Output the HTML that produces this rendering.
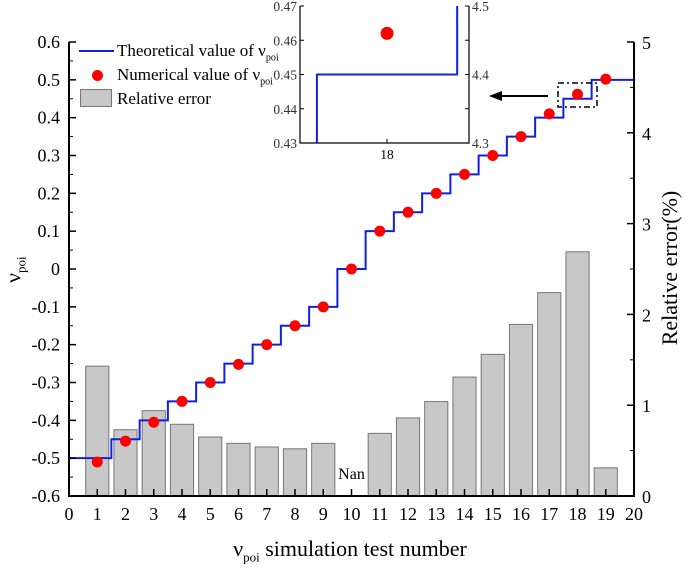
<!DOCTYPE html>
<html><head><meta charset="utf-8"><style>
body{margin:0;background:#fff}
svg{font-family:"Liberation Serif",serif}
</style></head><body>
<svg id="c" width="685" height="573" xmlns="http://www.w3.org/2000/svg"></svg>
<script>
const tests=[1,2,3,4,5,6,7,8,9,10,11,12,13,14,15,16,17,18,19];
const theoretical=[-0.5,-0.45,-0.4,-0.35,-0.3,-0.25,-0.2,-0.15,-0.1,0,0.1,0.15,0.2,0.25,0.3,0.35,0.4,0.45,0.5];
const numerical=[-0.51,-0.455,-0.405,-0.35,-0.3,-0.252,-0.2,-0.15,-0.1,0,0.1,0.15,0.2,0.25,0.3,0.35,0.41,0.462,0.502];
const relError=[1.43,0.73,0.94,0.79,0.65,0.58,0.54,0.52,0.58,null,0.69,0.86,1.04,1.31,1.56,1.89,2.24,2.69,0.31];
const xTicks=[0,1,2,3,4,5,6,7,8,9,10,11,12,13,14,15,16,17,18,19,20];
const yTicks=[0.6,0.5,0.4,0.3,0.2,0.1,0,-0.1,-0.2,-0.3,-0.4,-0.5,-0.6];
const y2Ticks=[0,1,2,3,4,5];
const insetYTicks=[0.43,0.44,0.45,0.46,0.47];
const insetY2Labels=["4.3","4.4","4.5"];

const L=69,R=634,T=42,B=496;
const X=v=>L+(v/20)*(R-L);
const Y=v=>T+(0.6-v)/1.2*(B-T);
const Y2=v=>B-(v/5)*(B-T);
const svg=document.getElementById('c');
const NS='http://www.w3.org/2000/svg';
function mk(tag,attrs,parent){const e=document.createElementNS(NS,tag);for(const k in attrs)e.setAttribute(k,attrs[k]);(parent||svg).appendChild(e);return e;}

// bars
tests.forEach((t,i)=>{if(relError[i]==null)return;
 const b=mk('rect',{x:X(t-0.41),y:Y2(relError[i]),width:X(0.82)-X(0),height:B-Y2(relError[i]),fill:'#c8c8c8',stroke:'#777','stroke-width':1});
 
 
});
const nan=mk('text',{x:X(10),y:Y(-0.555),'font-size':16,'text-anchor':'middle'});nan.textContent='Nan';


// step line
let d='M'+X(0)+','+Y(theoretical[0]);
tests.forEach((t,i)=>{const xe=i<tests.length-1?X(t+0.5):X(20);d+=' L'+(i==0?X(0):X(t-0.5))+','+Y(theoretical[i])+' L'+xe+','+Y(theoretical[i]);});
const sl=mk('path',{d:d,fill:'none',stroke:'#1020e0','stroke-width':2});

tests.forEach((t,i)=>{const c=mk('circle',{cx:X(t),cy:Y(numerical[i]),r:5.5,fill:'#f00'});
 });

// axes
const ax=mk('path',{d:`M${L},${T} L${L},${B} L${R},${B} L${R},${T}`,fill:'none',stroke:'#000','stroke-width':2});

xTicks.forEach(v=>{mk('line',{x1:X(v),x2:X(v),y1:B,y2:B-7,stroke:'#000','stroke-width':1.5});
 const t=mk('text',{x:X(v),y:B+24,'font-size':18,'text-anchor':'middle'});t.textContent=v;
 });
yTicks.forEach(v=>{mk('line',{x1:L,x2:L+7,y1:Y(v),y2:Y(v),stroke:'#000','stroke-width':1.5});
 const t=mk('text',{x:L-9,y:Y(v)+6,'font-size':18,'text-anchor':'end'});t.textContent=Math.abs(v)<1e-9?'0':v.toFixed(1);
 });
yTicks.forEach((v,i)=>{if(i<yTicks.length-1)mk('line',{x1:L,x2:L+4,y1:(Y(v)+Y(yTicks[i+1]))/2,y2:(Y(v)+Y(yTicks[i+1]))/2,stroke:'#000'});});
y2Ticks.forEach(v=>{mk('line',{x1:R,x2:R-7,y1:Y2(v),y2:Y2(v),stroke:'#000','stroke-width':1.5});
 if(v<5)mk('line',{x1:R,x2:R-4,y1:Y2(v+0.5),y2:Y2(v+0.5),stroke:'#000'});
 const t=mk('text',{x:R+8,y:Y2(v)+7,'font-size':18});t.textContent=v;
 });

// inset
const IL=300,IR=469,IT=6,IB=143;
const IX=v=>IL+(v-17.5)/1.0*(IR-IL)*0.83+ (IR-IL)*0.1;
const IY=v=>IB-(v-0.43)/0.04*(IB-IT);
const ig=mk('g',{});
mk('path',{d:`M${IX(17.5)},${IB} L${IX(17.5)},${IY(0.45)} L${IX(18.5)},${IY(0.45)} L${IX(18.5)},${IT}`,fill:'none',stroke:'#1020e0','stroke-width':2},ig);
mk('circle',{cx:IX(18),cy:IY(numerical[17]),r:6.5,fill:'#f00'},ig);
mk('path',{d:`M${IL},${IT} L${IL},${IB} L${IR},${IB} L${IR},${IT}`,fill:'none',stroke:'#000','stroke-width':1.2},ig);
insetYTicks.forEach(v=>{mk('line',{x1:IL,x2:IL+4,y1:IY(v),y2:IY(v),stroke:'#000'},ig);mk('line',{x1:IR,x2:IR-4,y1:IY(v),y2:IY(v),stroke:'#000'},ig);
 const t=mk('text',{x:IL-3,y:IY(v)+5,'font-size':13.5,'text-anchor':'end',fill:'#333'},ig);t.textContent=v.toFixed(2);});
insetY2Labels.forEach((s,i)=>{const t=mk('text',{x:IR+3,y:IY(0.43+i*0.02)+5,'font-size':13.5,fill:'#333'},ig);t.textContent=s;});
mk('line',{x1:IX(18),x2:IX(18),y1:IB,y2:IB-4,stroke:'#000'},ig);
const t18=mk('text',{x:IX(18),y:IB+16,'font-size':13.5,'text-anchor':'middle'},ig);t18.textContent='18';

// dash box and arrow
const db=mk('rect',{x:558,y:83,width:39,height:24,fill:'none',stroke:'#000','stroke-width':1.5,'stroke-dasharray':'6,3,2,3'});

const ar=mk('g',{});
mk('line',{x1:548,x2:500,y1:96,y2:96,stroke:'#000','stroke-width':2},ar);
mk('polygon',{points:'489,96 502,91 502,101',fill:'#000'},ar);
</script>
<div style="position:absolute;left:0;top:0;width:685px;height:573px;font-family:'Liberation Serif',serif;pointer-events:none">
 <div style="position:absolute;left:78px;top:39px;font-size:17px;line-height:24px">
  <div style="position:relative;height:24px"><span style="position:absolute;left:1px;top:11px;width:35px;height:2px;background:#1020e0"></span><span style="position:absolute;left:39px;white-space:nowrap">Theoretical value of ν<sub style="font-size:10px">poi</sub></span></div>
  <div style="position:relative;height:24px"><span style="position:absolute;left:14px;top:7px;width:11px;height:11px;border-radius:50%;background:#f00"></span><span style="position:absolute;left:39px;white-space:nowrap">Numerical value of ν<sub style="font-size:10px">poi</sub></span></div>
  <div style="position:relative;height:24px"><span style="position:absolute;left:2px;top:2px;width:30px;height:16px;background:#c8c8c8;border:1px solid #777"></span><span style="position:absolute;left:39px;white-space:nowrap">Relative error</span></div>
 </div>
 <div style="position:absolute;left:-10px;top:255px;width:50px;text-align:center;font-size:22px;transform:rotate(-90deg)">ν<sub style="font-size:13px">poi</sub></div>
 <div style="position:absolute;left:580px;top:255px;width:180px;text-align:center;font-size:22px;transform:rotate(-90deg);white-space:nowrap">Relative error(%)</div>
 <div style="position:absolute;left:150px;top:536px;width:400px;text-align:center;font-size:22px">ν<sub style="font-size:13px">poi</sub> simulation test number</div>
</div>
</body></html>
